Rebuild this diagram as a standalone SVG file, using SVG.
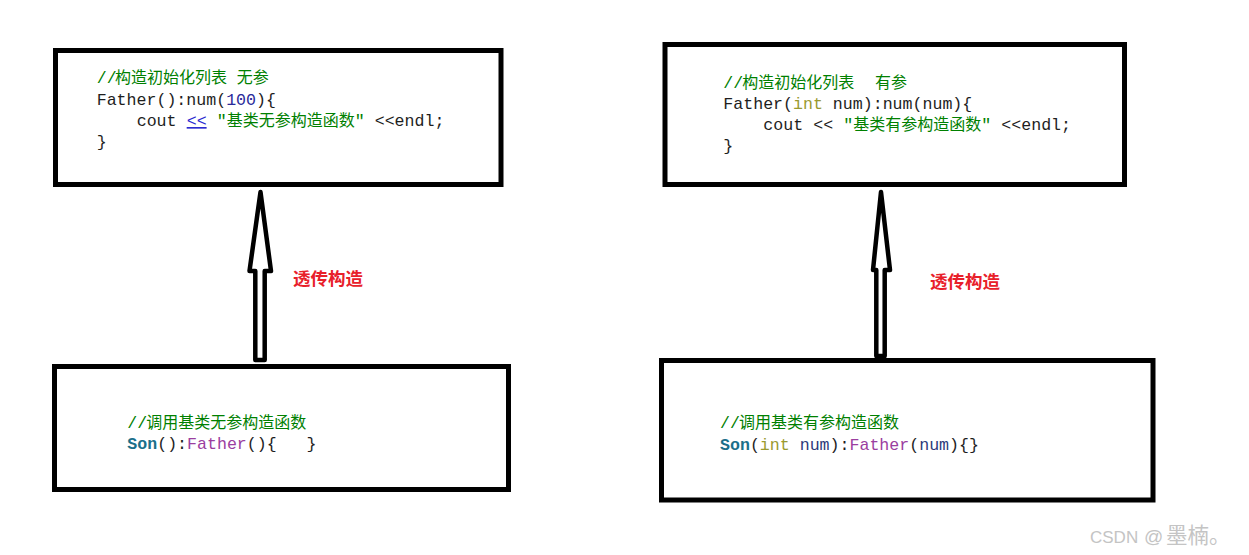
<svg xmlns="http://www.w3.org/2000/svg" width="1249" height="555" viewBox="0 0 1249 555">
<style>
.box{fill:#fff;stroke:#000;stroke-width:5}
.arrow{fill:#fff;stroke:#000;stroke-width:4.5;stroke-linejoin:round}
.code{font-family:"Liberation Mono","DejaVu Sans Mono","Noto Sans CJK SC",monospace;font-size:16.6px;fill:#1e1e1e}
.cjk{font-family:"Noto Sans CJK SC","Noto Sans",sans-serif;font-size:16px}
.cm{fill:#008000}
.num{fill:#2a2a9a}
.op{fill:#2b2bd0;text-decoration:underline}
.kw{fill:#9a9a30}
.var{fill:#2d3a7a}
.son{fill:#1b6f8a;font-weight:bold}
.fa{fill:#9b3ea0}
.lbl{font-family:"Noto Sans CJK SC","Noto Sans",sans-serif;font-size:17.5px;font-weight:bold;fill:#e8202a}
.wm{font-family:"Liberation Sans","Noto Sans CJK SC",sans-serif;fill:#c4c4c4}
</style>
<rect width="1249" height="555" fill="#fff"/>

<g id="connectors">
  <polygon class="arrow" points="260.5,192 271,271 264.7,271 264.7,360 255.3,360 255.3,271 249.5,271"/>
  <polygon class="arrow" points="881,192 890,270 884.7,270 884.7,356 876.3,356 876.3,270 873,270"/>
  <text class="lbl" x="293" y="285">透传构造</text>
  <text class="lbl" x="930" y="288">透传构造</text>
</g>

<g id="node-father-default">
  <rect class="box" x="55.5" y="50.5" width="445.5" height="134"/>
  <text class="code" y="83"><tspan class="cm" x="96.7">//</tspan><tspan class="cm cjk" x="115">构造初始化列表</tspan><tspan class="cm cjk" x="236.7">无参</tspan></text>
  <text class="code" x="96.7" y="105">Father():num(<tspan class="num">100</tspan>){</text>
  <text class="code" y="126"><tspan x="136.7">cout</tspan><tspan class="op" x="186.7">&lt;&lt;</tspan><tspan class="cm" x="216.7">"</tspan><tspan class="cm cjk" x="226.7">基类无参构造函数</tspan><tspan class="cm" x="354.7">"</tspan><tspan x="374.7">&lt;&lt;endl;</tspan></text>
  <text class="code" x="96.7" y="147">}</text>
</g>

<g id="node-father-param">
  <rect class="box" x="665" y="44.5" width="459.5" height="140"/>
  <text class="code" y="87.5"><tspan class="cm" x="723.3">//</tspan><tspan class="cm cjk" x="742.3">构造初始化列表</tspan><tspan class="cm cjk" x="875">有参</tspan></text>
  <text class="code" x="723.3" y="109" xml:space="preserve">Father(<tspan class="kw">int</tspan> num):num(num){</text>
  <text class="code" y="130"><tspan x="763.3">cout</tspan><tspan x="813.3">&lt;&lt;</tspan><tspan class="cm" x="843.3">"</tspan><tspan class="cm cjk" x="853.3">基类有参构造函数</tspan><tspan class="cm" x="981.3">"</tspan><tspan x="1001.3">&lt;&lt;endl;</tspan></text>
  <text class="code" x="723.3" y="151">}</text>
</g>

<g id="node-son-default">
  <rect class="box" x="54.5" y="366.5" width="454" height="123"/>
  <text class="code" y="427.5"><tspan class="cm" x="127.3">//</tspan><tspan class="cm cjk" x="146.3">调用基类无参构造函数</tspan></text>
  <text class="code" x="127.3" y="449" xml:space="preserve"><tspan class="son">Son</tspan>():<tspan class="fa">Father</tspan>(){   }</text>
</g>

<g id="node-son-param">
  <rect class="box" x="661.5" y="360.5" width="491.5" height="139.5"/>
  <text class="code" y="428"><tspan class="cm" x="720">//</tspan><tspan class="cm cjk" x="739">调用基类有参构造函数</tspan></text>
  <text class="code" x="720" y="450" xml:space="preserve"><tspan class="son">Son</tspan>(<tspan class="kw">int</tspan> <tspan class="var">num</tspan>):<tspan class="fa">Father</tspan>(<tspan class="var">num</tspan>){}</text>
</g>

<g id="watermark">
  <text class="wm" y="543"><tspan x="1090" font-size="17">CSDN</tspan><tspan x="1144" font-size="19">@</tspan><tspan x="1166" font-size="21.5" font-family="Noto Sans CJK SC, sans-serif">墨楠。</tspan></text>
</g>
</svg>
